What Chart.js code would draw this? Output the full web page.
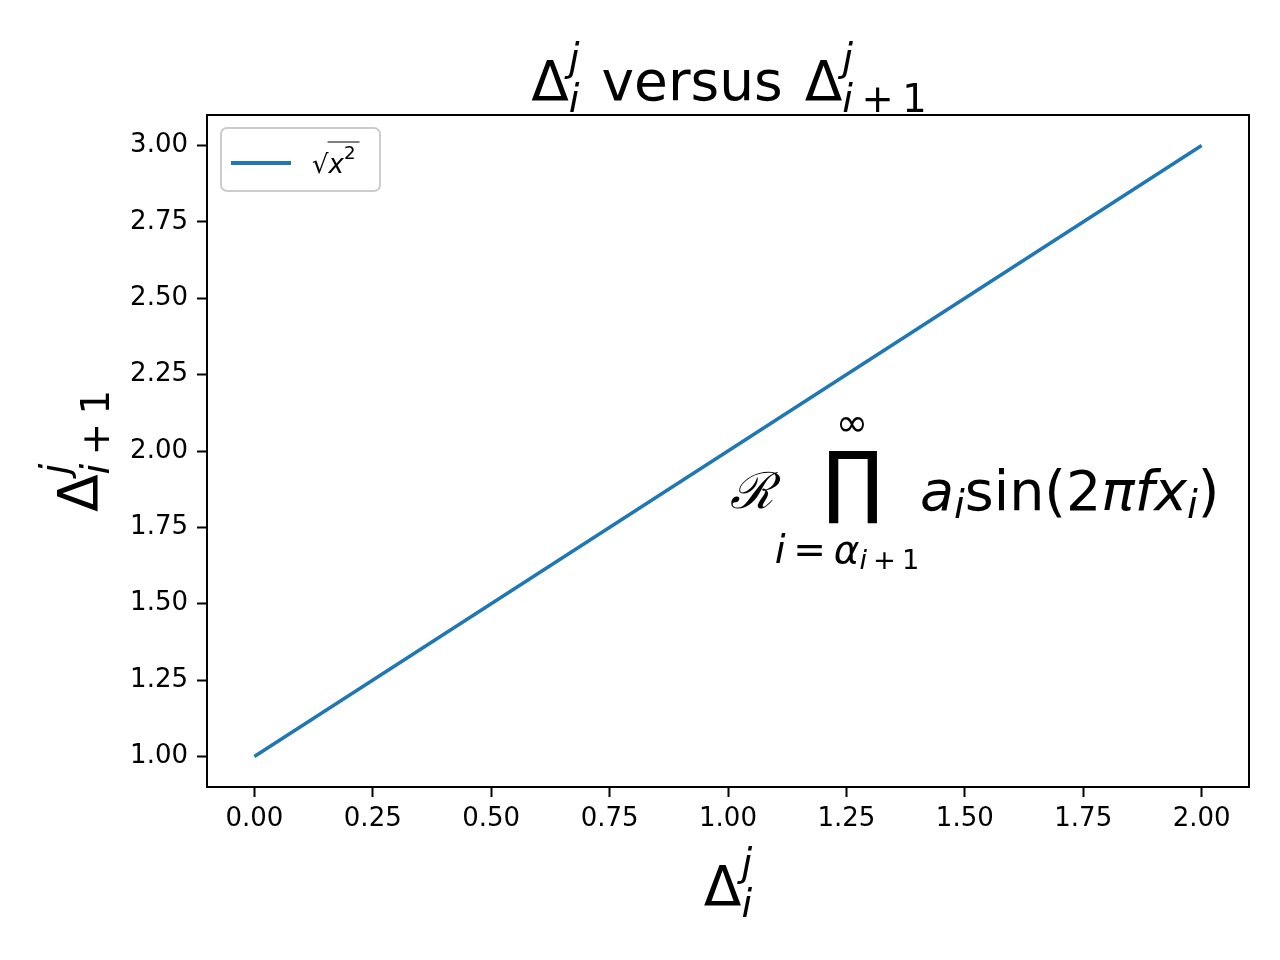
<!DOCTYPE html>
<html>
<head>
<meta charset="utf-8">
<script src="https://cdn.jsdelivr.net/npm/chart.js@4.4.1/dist/chart.umd.min.js"></script>
<style>
  body { margin: 0; background: #fff; }
</style>
</head>
<body>
<canvas id="chart" width="1280" height="960"></canvas>
<script>
// data
const xValues = [0, 1, 2];
const yValues = [1, 2, 3];
const seriesLabel = '√x²';
const xTicks = [0, 0.25, 0.5, 0.75, 1, 1.25, 1.5, 1.75, 2];
const yTicks = [1, 1.25, 1.5, 1.75, 2, 2.25, 2.5, 2.75, 3];
const textAt = [1, 1.6];

const FONT = '"DejaVu Sans"';
const lineColor = '#1f77b4';

// tiny math-text drawer: tokens laid left to right, scripts stacked
function mrun(ctx, x, y, toks, px, draw) {
    let cx = x;
    for (const k of toks) {
        if (k.gap) { cx += k.gap * px; continue; }
        if (k.sup || k.sub) {
            const a = k.sup ? mrun(ctx, cx, y - 0.52 * px, k.sup, px * 0.7, draw) : 0;
            const b = k.sub ? mrun(ctx, cx, y + (k.sup ? 0.22 : 0.14) * px, k.sub, px * 0.7, draw) : 0;
            cx += Math.max(a, b);
            continue;
        }
        ctx.font = (k.it ? 'italic ' : '') + px + 'px ' + FONT;
        if (draw) ctx.fillText(k.t, cx, y);
        cx += ctx.measureText(k.t).width;
    }
    return cx - x;
}

function centered(ctx, cx, y, toks, px) {
    const w = mrun(ctx, 0, 0, toks, px, false);
    mrun(ctx, cx - w / 2, y, toks, px, true);
}

const plusOne = [{ t: 'i', it: true }, { gap: 0.22 }, { t: '+' }, { gap: 0.22 }, { t: '1' }];
const dI = [{ t: 'Δ' }, { sup: [{ t: 'j', it: true }], sub: [{ t: 'i', it: true }] }];
const dI1 = [{ t: 'Δ' }, { sup: [{ t: 'j', it: true }], sub: plusOne }];
const titleToks = [...dI, { gap: 0.4 }, { t: 'versus' }, { gap: 0.4 }, ...dI1];

const mathPlugin = {
    id: 'mathText',
    afterDraw(chart) {
        const ctx = chart.ctx;
        const a = chart.chartArea;
        const xs = chart.scales.x, ys = chart.scales.y;
        ctx.save();
        ctx.fillStyle = '#000';
        ctx.textBaseline = 'alphabetic';
        ctx.textAlign = 'left';

        // frame
        ctx.strokeStyle = '#000';
        ctx.lineWidth = 2;
        ctx.strokeRect(a.left, a.top, a.right - a.left, a.bottom - a.top);

        // title and axis labels
        const mid = (a.left + a.right) / 2;
        centered(ctx, mid + 1, 100, titleToks, 55);
        centered(ctx, mid, 905, dI, 55);
        ctx.save();
        ctx.translate(97, (a.top + a.bottom) / 2);
        ctx.rotate(-Math.PI / 2);
        centered(ctx, 0, 0, dI1, 55);
        ctx.restore();

        // annotation at data point, bottom aligned
        const x0 = xs.getPixelForValue(textAt[0]);
        const y0 = ys.getPixelForValue(textAt[1]);
        ctx.font = 'italic 50px "DejaVu Serif"';
        ctx.fillText('ℛ', x0 + 2, y0 - 65);
        // big product sign fitted to its box
        ctx.font = '100px ' + FONT;
        const m = ctx.measureText('∏');
        const h = m.actualBoundingBoxAscent + m.actualBoundingBoxDescent;
        const s = 73 / h * 100;
        ctx.font = s + 'px ' + FONT;
        const m2 = ctx.measureText('∏');
        ctx.fillText('∏', x0 + 125 - m2.width / 2, y0 - 123 + m2.actualBoundingBoxAscent);
        centered(ctx, x0 + 124, y0 - 137, [{ t: '∞' }], 39);
        centered(ctx, x0 + 119, y0 - 10, [{ t: 'i', it: true }, { gap: 0.2 }, { t: '=' }, { gap: 0.2 }, { t: 'α', it: true },
            { sub: plusOne }], 39);
        mrun(ctx, x0 + 192, y0 - 63, [{ t: 'a', it: true }, { sub: [{ t: 'i', it: true }] }, { t: 'sin(2' }, { t: 'π', it: true },
            { t: 'f', it: true }, { t: 'x', it: true }, { sub: [{ t: 'i', it: true }] }, { t: ')' }], 55.5, true);

        // legend
        const lx = a.left + 14, ly = a.top + 13, lw = 159, lh = 63;
        ctx.beginPath();
        ctx.roundRect(lx, ly, lw, lh, 6);
        ctx.fillStyle = 'rgba(255,255,255,0.8)';
        ctx.fill();
        ctx.strokeStyle = '#cccccc';
        ctx.lineWidth = 2;
        ctx.stroke();
        ctx.beginPath();
        ctx.moveTo(lx + 10, ly + 35);
        ctx.lineTo(lx + 70, ly + 35);
        ctx.strokeStyle = lineColor;
        ctx.lineWidth = 4;
        ctx.stroke();
        ctx.fillStyle = '#000';
        const bx = lx + 91, by = ly + 45;
        ctx.font = '26px ' + FONT;
        ctx.fillText(seriesLabel.charAt(0), bx, by);
        const rw = ctx.measureText(seriesLabel.charAt(0)).width;
        const w = mrun(ctx, bx + rw, by, [{ t: 'x', it: true }, { sup: [{ t: '2' }] }], 26, true);
        ctx.strokeStyle = '#000';
        ctx.lineWidth = 1.2;
        ctx.beginPath();
        ctx.moveTo(bx + rw - 1, by - 31);
        ctx.lineTo(bx + rw + w + 4, by - 31);
        ctx.stroke();
        ctx.restore();
    }
};

const tickFont = { family: 'DejaVu Sans', size: 26 };

new Chart(document.getElementById('chart').getContext('2d'), {
    type: 'line',
    data: {
        datasets: [{
            label: seriesLabel,
            data: xValues.map((x, i) => ({ x: x, y: yValues[i] })),
            borderColor: lineColor,
            borderWidth: 3.5,
            pointRadius: 0,
            tension: 0,
            fill: false
        }]
    },
    options: {
        responsive: false,
        animation: false,
        layout: { padding: { top: 115, right: 31, bottom: 0, left: 0 } },
        plugins: {
            legend: { display: false },
            tooltip: { enabled: false }
        },
        scales: {
            x: {
                type: 'linear',
                min: -0.1,
                max: 2.1,
                afterBuildTicks: s => { s.ticks = xTicks.map(v => ({ value: v })); },
                afterFit: s => { s.height = 173; },
                ticks: {
                    color: '#000',
                    font: tickFont,
                    padding: 7,
                    maxRotation: 0,
                    callback: v => v.toFixed(2)
                },
                grid: { drawOnChartArea: false, drawTicks: true, tickLength: 10, tickWidth: 2, tickColor: '#000' },
                border: { display: false }
            },
            y: {
                type: 'linear',
                min: 0.9,
                max: 3.1,
                afterBuildTicks: s => { s.ticks = yTicks.map(v => ({ value: v })); },
                afterFit: s => { s.width = 207; },
                ticks: {
                    color: '#000',
                    font: tickFont,
                    padding: 9,
                    callback: v => v.toFixed(2)
                },
                grid: { drawOnChartArea: false, drawTicks: true, tickLength: 10, tickWidth: 2, tickColor: '#000' },
                border: { display: false }
            }
        }
    },
    plugins: [mathPlugin]
});
</script>
</body>
</html>
